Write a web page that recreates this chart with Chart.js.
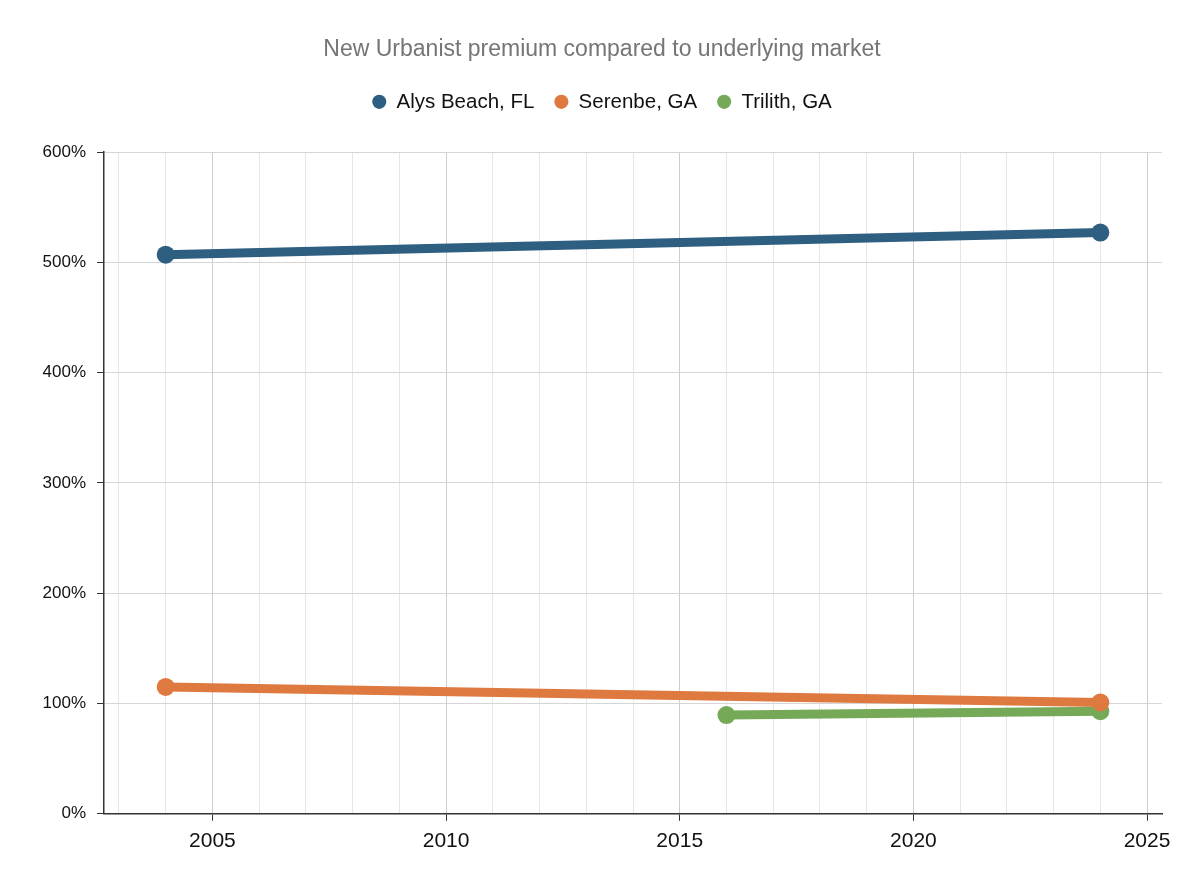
<!DOCTYPE html>
<html>
<head>
<meta charset="utf-8">
<script src="https://cdn.jsdelivr.net/npm/chart.js@4"></script>
<style>
  html, body { margin: 0; padding: 0; background: #fff; }
  #wrap { width: 1200px; height: 890px; }
</style>
</head>
<body>
<div id="wrap"><canvas id="chart"></canvas></div>
<script>
// data
const seriesNames = ['Alys Beach, FL', 'Serenbe, GA', 'Trilith, GA'];
const alysYears = [2004, 2024];
const alysValues = [507, 527];
const serenbeYears = [2004, 2024];
const serenbeValues = [115, 101];
const trilithYears = [2016, 2024];
const trilithValues = [89.5, 93];
const yearTicks = [2003, 2004, 2005, 2006, 2007, 2008, 2009, 2010, 2011, 2012, 2013, 2014,
  2015, 2016, 2017, 2018, 2019, 2020, 2021, 2022, 2023, 2024, 2025];
const colors = ['#2e5f81', '#de7940', '#76a957'];

const toPoints = (xs, ys) => xs.map((x, i) => ({ x: x, y: ys[i] }));

// extra room under the legend
const legendGap = {
  id: 'legendGap',
  beforeInit(chart) {
    const fit = chart.legend.fit;
    chart.legend.fit = function () {
      fit.bind(chart.legend)();
      this.height += 30;
    };
  }
};

const ctx = document.getElementById('chart').getContext('2d');
Chart.defaults.font.family = '"Liberation Sans", Arial, sans-serif';

new Chart(ctx, {
  type: 'line',
  data: {
    datasets: [
      { label: seriesNames[0], data: toPoints(alysYears, alysValues) },
      { label: seriesNames[1], data: toPoints(serenbeYears, serenbeValues) },
      { label: seriesNames[2], data: toPoints(trilithYears, trilithValues) }
    ].map((d, i) => Object.assign(d, {
      borderColor: colors[i],
      backgroundColor: colors[i],
      borderWidth: 9,
      pointRadius: 9,
      pointHoverRadius: 9,
      pointBorderWidth: 0,
      tension: 0
    }))
  },
  plugins: [legendGap],
  options: {
    responsive: true,
    maintainAspectRatio: false,
    animation: false,
    layout: { padding: { top: 26, left: 42, right: 38, bottom: 28 } },
    plugins: {
      title: {
        display: true,
        text: 'New Urbanist premium compared to underlying market',
        color: '#757575',
        font: { size: 23, weight: 'normal' },
        padding: { top: 10, bottom: 8 }
      },
      legend: {
        labels: {
          usePointStyle: true,
          pointStyle: 'circle',
          boxWidth: 14,
          boxHeight: 10,
          color: '#111',
          font: { size: 20.5 },
          padding: 20
        }
      },
      tooltip: { enabled: false }
    },
    scales: {
      x: {
        type: 'linear',
        min: 2002.68,
        max: 2025.32,
        afterBuildTicks: (scale) => {
          scale.ticks = yearTicks.map(v => ({ value: v }));
        },
        ticks: {
          color: '#111',
          font: { size: 21 },
          padding: 8,
          autoSkip: false,
          maxRotation: 0,
          callback: (v) => (v % 5 === 0 ? String(v) : '')
        },
        grid: {
          color: (c) => (c.tick && c.tick.value % 5 === 0 ? '#cdcdcd' : '#e6e6e6'),
          tickColor: (c) => (c.tick && c.tick.value % 5 === 0 ? '#333' : 'rgba(0,0,0,0)'),
          tickLength: 7,
          lineWidth: 1
        },
        border: { color: '#333', width: 1.5 }
      },
      y: {
        min: 0,
        max: 600,
        afterFit: (scale) => { scale.width = 62; },
        ticks: {
          stepSize: 100,
          color: '#111',
          font: { size: 17 },
          padding: 11,
          callback: (v) => v + '%'
        },
        grid: {
          color: '#d6d6d6',
          tickColor: '#333',
          tickLength: 7,
          lineWidth: 1
        },
        border: { color: '#333', width: 1.5 }
      }
    }
  }
});
</script>
</body>
</html>
